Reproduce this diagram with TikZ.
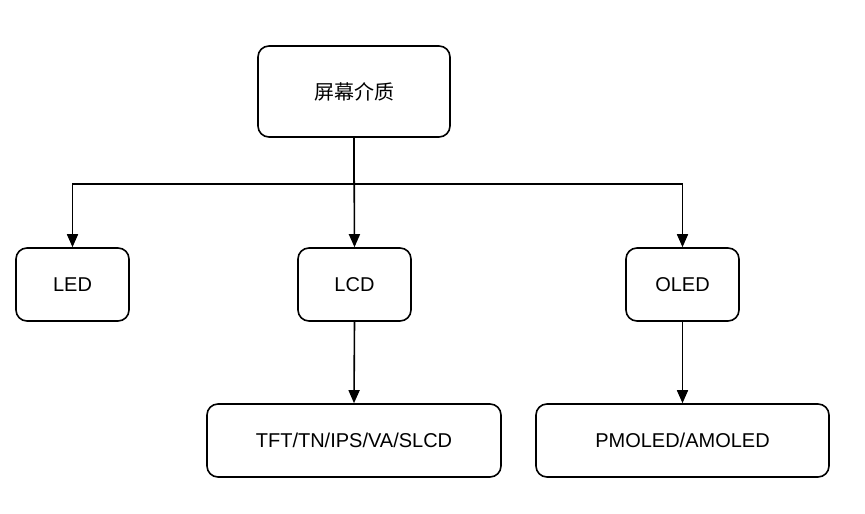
\documentclass[tikz,border=0pt]{standalone}
\usepackage{fontspec}
\setmainfont{Liberation Sans}
\newfontfamily\cjk{Noto Sans CJK SC}
\usetikzlibrary{arrows.meta}
\begin{document}
\begin{tikzpicture}[x=1pt,y=-1pt,
  box/.style={draw,line width=1.6pt,rounded corners=11pt,inner sep=0pt,font=\fontsize{20}{24}\selectfont},
  arr/.style={line width=1.6pt,-{Triangle[length=13pt,width=11pt]}}]
\useasboundingbox (0,0) rectangle (865,514);
\node[box,minimum width=192pt,minimum height=91pt] (top) at (354,91.5) {\cjk 屏幕介质};
\node[box,minimum width=113pt,minimum height=73pt] (led) at (72.5,284.5) {LED};
\node[box,minimum width=113pt,minimum height=73pt] (lcd) at (354.5,284.5) {LCD};
\node[box,minimum width=113pt,minimum height=73pt] (oled) at (682.5,284.5) {OLED};
\node[box,minimum width=294pt,minimum height=73pt] (tft) at (354,440.5) {TFT/TN/IPS/VA/SLCD};
\node[box,minimum width=293pt,minimum height=73pt] (pm) at (682.5,440.5) {PMOLED/AMOLED};
\coordinate (j) at (354,184);
\draw[arr] (top.south) -- (j) -| (led.north);
\draw[arr] (top.south) -- (lcd.north);
\draw[arr] (j) -| (oled.north);
\draw[arr] (lcd.south) -- (tft.north);
\draw[arr] (oled.south) -- (pm.north);
\end{tikzpicture}
\end{document}
